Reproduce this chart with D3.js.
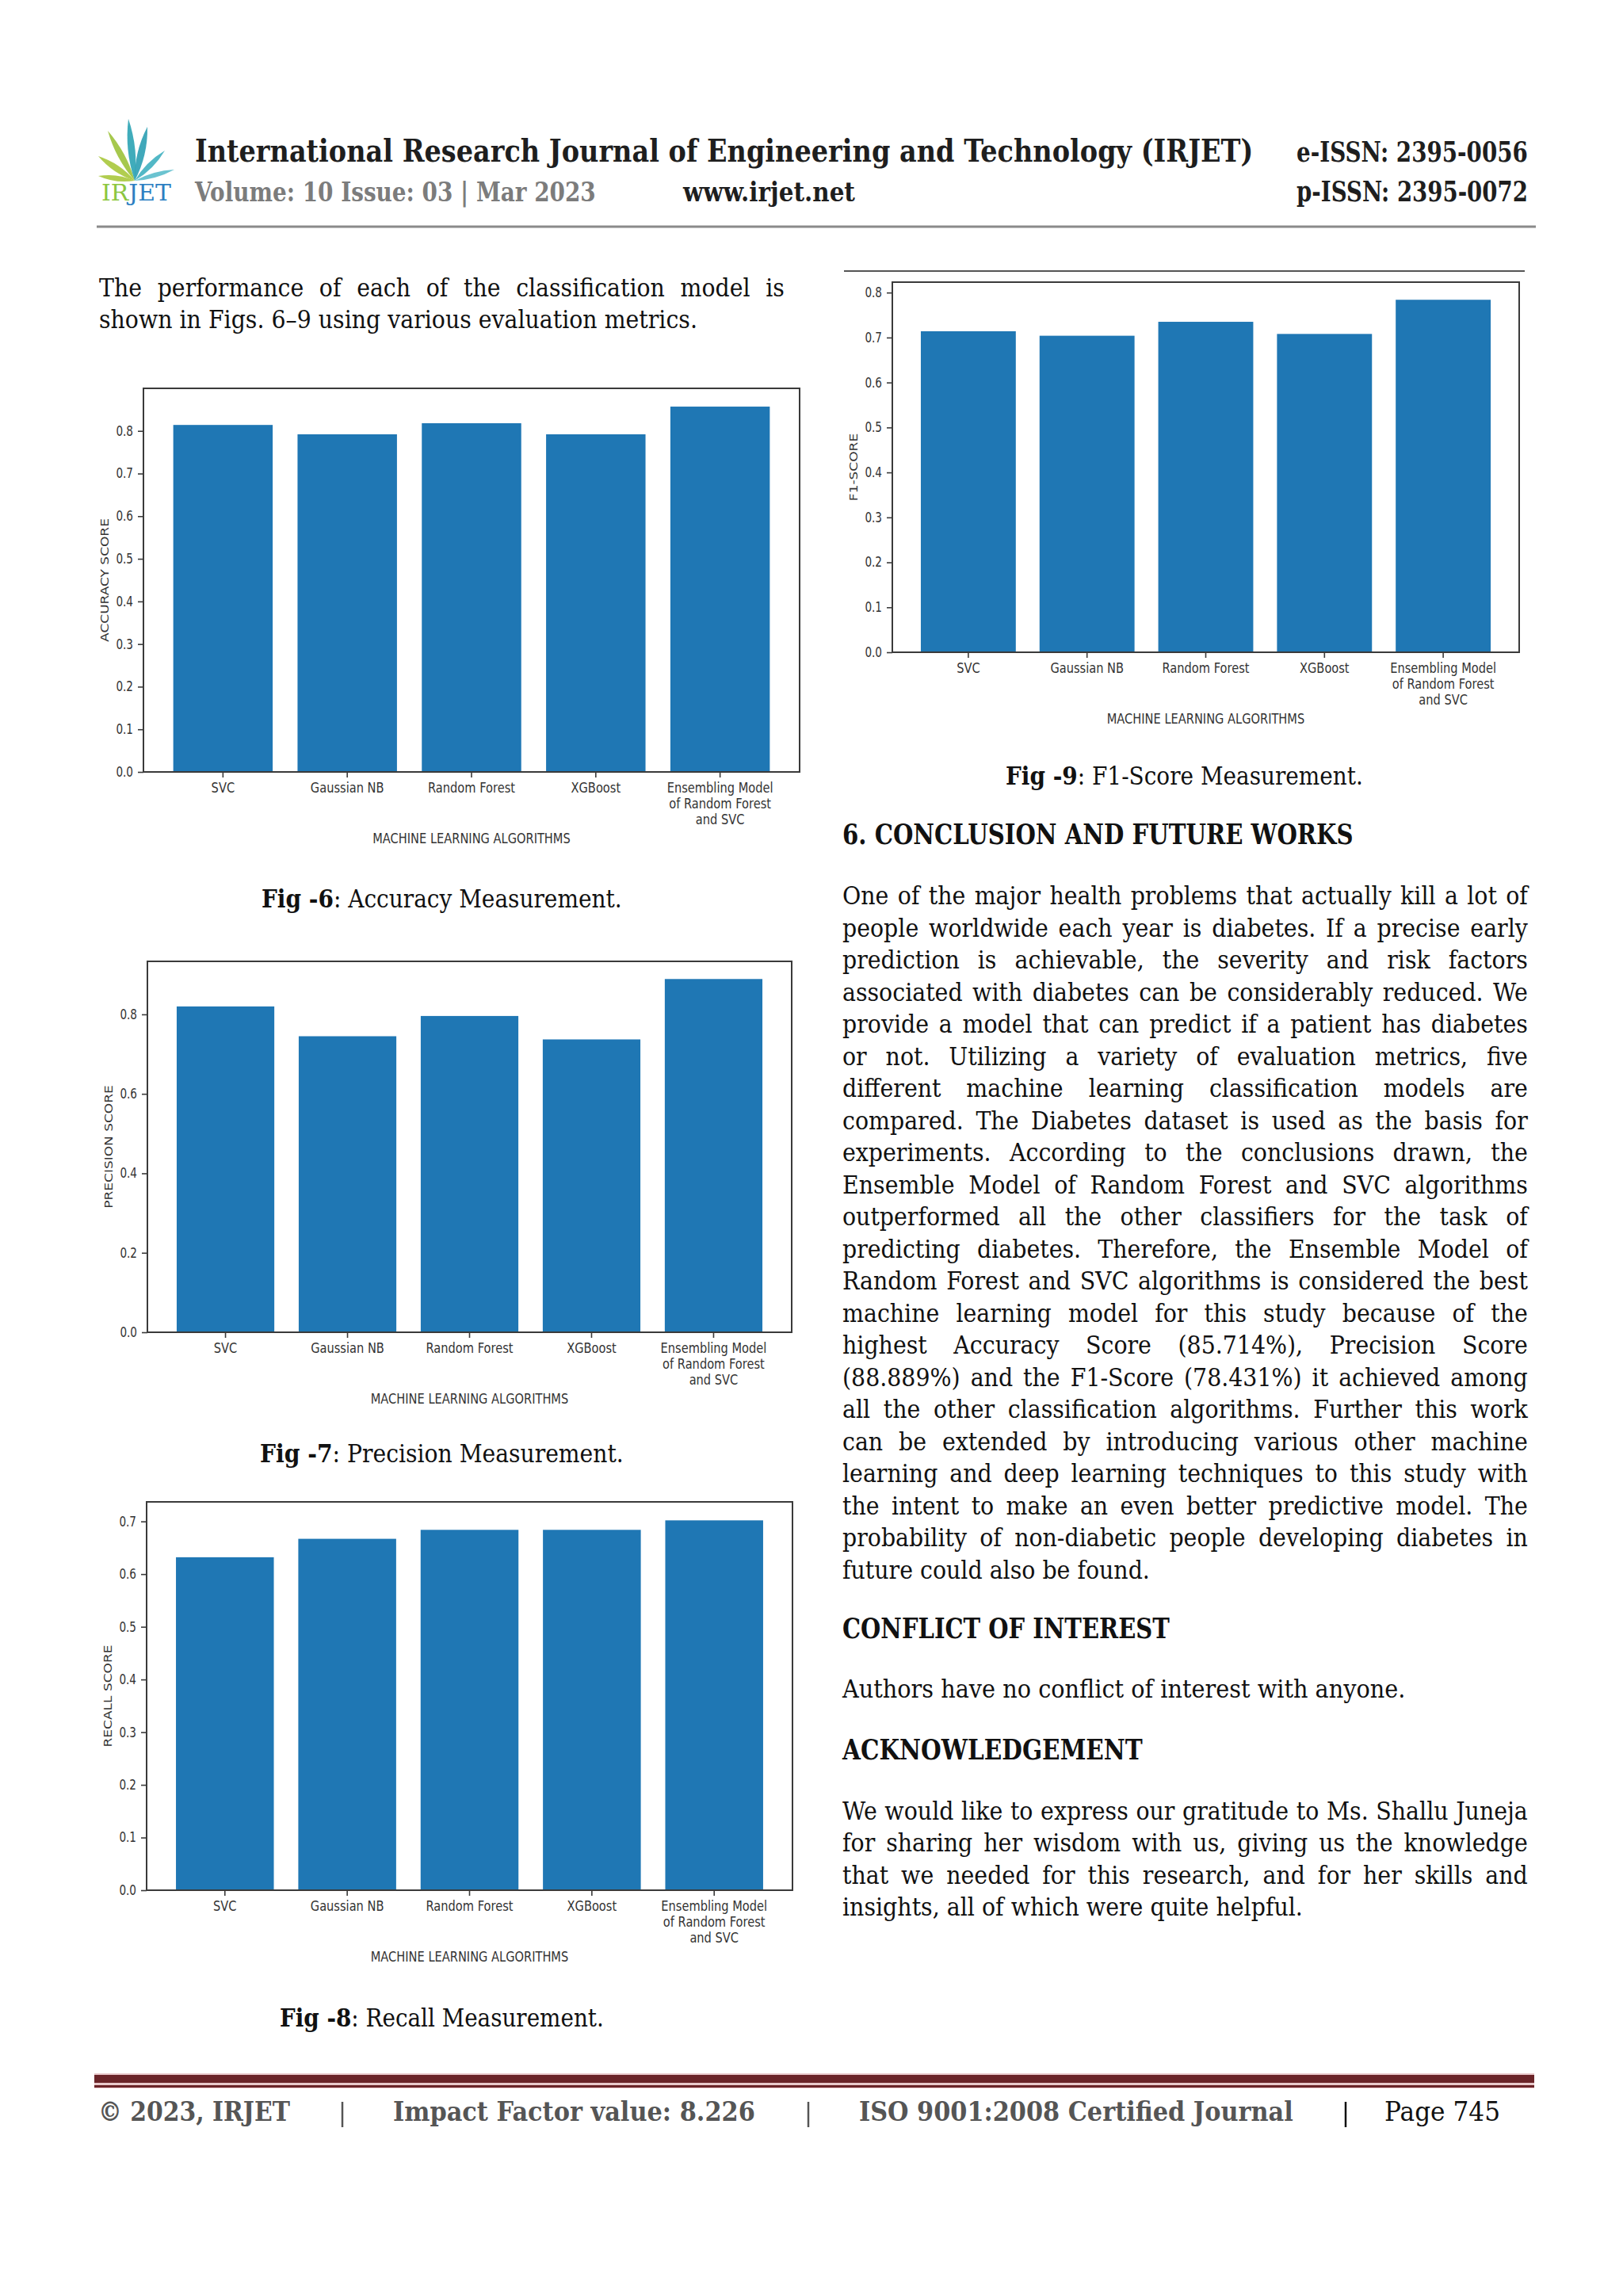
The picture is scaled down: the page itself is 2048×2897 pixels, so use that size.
<!DOCTYPE html>
<html>
<head>
<meta charset="utf-8">
<script src="https://cdn.jsdelivr.net/npm/d3@7"></script>
<style>
  body { margin: 0; background: #fff; }
</style>
</head>
<body>
<script>
// Chart data
const algorithms = ["SVC", "Gaussian NB", "Random Forest", "XGBoost", "Ensembling Model"];
const algorithmLines = [["SVC"], ["Gaussian NB"], ["Random Forest"], ["XGBoost"], ["Ensembling Model", "of Random Forest", "and SVC"]];
const accuracy = [0.814, 0.792, 0.818, 0.792, 0.857];
const precision = [0.820, 0.745, 0.796, 0.737, 0.889];
const recall = [0.632, 0.667, 0.684, 0.684, 0.702];
const f1Score = [0.714, 0.704, 0.735, 0.708, 0.784];
const accuracyTicks = [0, 0.1, 0.2, 0.3, 0.4, 0.5, 0.6, 0.7, 0.8];
const precisionTicks = [0, 0.2, 0.4, 0.6, 0.8];
const recallTicks = [0, 0.1, 0.2, 0.3, 0.4, 0.5, 0.6, 0.7];
const f1Ticks = [0, 0.1, 0.2, 0.3, 0.4, 0.5, 0.6, 0.7, 0.8];

// Page text
const introLines = [
  "The performance of each of the classification model is",
  "shown in Figs. 6\u20139 using various evaluation metrics."
];
const conclusionLines = [
  "One of the major health problems that actually kill a lot of",
  "people worldwide each year is diabetes. If a precise early",
  "prediction is achievable, the severity and risk factors",
  "associated with diabetes can be considerably reduced. We",
  "provide a model that can predict if a patient has diabetes",
  "or not. Utilizing a variety of evaluation metrics, five",
  "different machine learning classification models are",
  "compared. The Diabetes dataset is used as the basis for",
  "experiments. According to the conclusions drawn, the",
  "Ensemble Model of Random Forest and SVC algorithms",
  "outperformed all the other classifiers for the task of",
  "predicting diabetes. Therefore, the Ensemble Model of",
  "Random Forest and SVC algorithms is considered the best",
  "machine learning model for this study because of the",
  "highest Accuracy Score (85.714%), Precision Score",
  "(88.889%) and the F1-Score (78.431%) it achieved among",
  "all the other classification algorithms. Further this work",
  "can be extended by introducing various other machine",
  "learning and deep learning techniques to this study with",
  "the intent to make an even better predictive model. The",
  "probability of non-diabetic people developing diabetes in",
  "future could also be found."
];
const ackLines = [
  "We would like to express our gratitude to Ms. Shallu Juneja",
  "for sharing her wisdom with us, giving us the knowledge",
  "that we needed for this research, and for her skills and",
  "insights, all of which were quite helpful."
];

const serif = "DejaVu Serif";
const sans = "DejaVu Sans";
const barColor = "#1f77b4";
const axisColor = "#3a3a3a";

const svg = d3.select("body").append("svg")
  .attr("width", 2048)
  .attr("height", 2897);

svg.append("rect").attr("width", 2048).attr("height", 2897).attr("fill", "#fff");

// text helper: w = width the text takes on the page (narrow face -> horizontal scale)
function txt(g, x, y, s, o = {}) {
  const t = g.append("text")
    .attr("transform", `translate(${x},${y})`)
    .attr("font-family", o.font || serif)
    .attr("font-size", o.size || 31)
    .attr("font-weight", o.weight || "normal")
    .attr("fill", o.fill || "#111")
    .text(s);
  if (o.w) {
    const w0 = t.node().getComputedTextLength();
    t.attr("transform", `translate(${x},${y}) scale(${o.w / w0},1)`);
  }
  return t;
}

// justified paragraph: glyph squeeze taken from the last (free) line, word spacing fills the rest
function paragraph(g, x, y0, pitch, lines, colW, lastW) {
  const last = lines.length - 1;
  const nodes = lines.map((s, i) => txt(g, x, y0 + i * pitch, s));
  const k = lastW / nodes[last].node().getComputedTextLength();
  nodes.forEach((t, i) => {
    const y = y0 + i * pitch;
    if (i === last) {
      t.attr("transform", `translate(${x},${y}) scale(${k},1)`);
      return;
    }
    const w0 = t.node().getComputedTextLength();
    const spaces = (lines[i].match(/ /g) || []).length;
    t.attr("word-spacing", (colW / k - w0) / spaces);
    const w1 = t.node().getComputedTextLength();
    t.attr("transform", `translate(${x},${y}) scale(${colW / w1},1)`);
  });
}

// squeeze chart text horizontally by k around its own anchor
function squeeze(sel, k) {
  sel.each(function() {
    const t = d3.select(this);
    const x0 = +(t.attr("x") || 0);
    t.attr("x", x0 / k).attr("transform", `scale(${k},1)`);
  });
}

// ---------- header ----------
const header = svg.append("g");

function leaf(bx, by, tx, ty, w) {
  const mx = (bx + tx) / 2, my = (by + ty) / 2;
  const dx = tx - bx, dy = ty - by;
  const len = Math.sqrt(dx * dx + dy * dy);
  const nx = -dy / len * w, ny = dx / len * w;
  return `M${bx},${by} Q${mx + nx},${my + ny} ${tx},${ty} Q${mx - nx},${my - ny} ${bx},${by}Z`;
}
const logoBase = [170, 228];
const leaves = [
  { tip: [124, 222], w: 7, c: "#a9c83c" },
  { tip: [124, 197], w: 8, c: "#a9c83c" },
  { tip: [136, 165], w: 8, c: "#9cc23a" },
  { tip: [162, 150], w: 9, c: "#2ba3b4" },
  { tip: [186, 160], w: 9, c: "#2b9fb2" },
  { tip: [208, 190], w: 7, c: "#3fb0c0" },
  { tip: [220, 214], w: 6, c: "#5bbccb" }
];
leaves.forEach(l => {
  header.append("path")
    .attr("d", leaf(logoBase[0], logoBase[1], l.tip[0], l.tip[1], l.w))
    .attr("fill", l.c)
    .attr("opacity", 0.9);
});
const logoText = header.append("text")
  .attr("transform", "translate(128,253)")
  .attr("font-family", serif).attr("font-size", 27);
logoText.append("tspan").attr("fill", "#8cc63f").text("IR");
logoText.append("tspan").attr("fill", "#2d7fc2").text("JET");
logoText.attr("transform", `translate(128,253) scale(${88 / logoText.node().getComputedTextLength()},1)`);

txt(header, 246, 204, "International Research Journal of Engineering and Technology (IRJET)",
  { size: 40, weight: "bold", fill: "#1e1e1e", w: 1336 });
txt(header, 1636, 204, "e-ISSN: 2395-0056", { size: 36, weight: "bold", fill: "#1e1e1e", w: 292 });
txt(header, 246, 254, "Volume: 10 Issue: 03 | Mar 2023", { size: 33, weight: "bold", fill: "#7c7c7c", w: 506 });
txt(header, 862, 254, "www.irjet.net", { size: 33, weight: "bold", fill: "#1e1e1e", w: 217 });
txt(header, 1636, 254, "p-ISSN: 2395-0072", { size: 36, weight: "bold", fill: "#1e1e1e", w: 292 });

header.append("line")
  .attr("x1", 122).attr("x2", 1938).attr("y1", 286).attr("y2", 286)
  .attr("stroke", "#8a8a8a").attr("stroke-width", 3);

// ---------- body text ----------
const body = svg.append("g");
const colW = 865;

paragraph(body, 125, 374, 40, introLines, colW, 755);

txt(body, 1063, 1065, "6. CONCLUSION AND FUTURE WORKS", { size: 35, weight: "bold", w: 645 });
paragraph(body, 1063, 1141, 40.5, conclusionLines, colW, 388);
txt(body, 1063, 2067, "CONFLICT OF INTEREST", { size: 35, weight: "bold", w: 413 });
txt(body, 1063, 2142, "Authors have no conflict of interest with anyone.", { w: 711 });
txt(body, 1063, 2220, "ACKNOWLEDGEMENT", { size: 35, weight: "bold", w: 379 });
paragraph(body, 1063, 2296, 40.4, ackLines, colW, 581);

// rule above Fig 9
body.append("line")
  .attr("x1", 1065).attr("x2", 1924).attr("y1", 342).attr("y2", 342)
  .attr("stroke", "#555").attr("stroke-width", 2);

// ---------- charts ----------
const charts = [
  { values: accuracy, ticks: accuracyTicks, label: "ACCURACY SCORE",
    box: { left: 181, right: 1009, top: 490, bottom: 974 },
    fig: "Fig -6", caption: ": Accuracy Measurement.", cap: { x: 330, y: 1145, w: 455 } },
  { values: precision, ticks: precisionTicks, label: "PRECISION SCORE",
    box: { left: 186, right: 999, top: 1213, bottom: 1681 },
    fig: "Fig -7", caption: ": Precision Measurement.", cap: { x: 328, y: 1845, w: 459 } },
  { values: recall, ticks: recallTicks, label: "RECALL SCORE",
    box: { left: 185, right: 1000, top: 1895, bottom: 2385 },
    fig: "Fig -8", caption: ": Recall Measurement.", cap: { x: 353, y: 2557, w: 409 } },
  { values: f1Score, ticks: f1Ticks, label: "F1-SCORE",
    box: { left: 1126, right: 1917, top: 356, bottom: 823 },
    fig: "Fig -9", caption: ": F1-Score Measurement.", cap: { x: 1269, y: 990, w: 451 } }
];

function drawChart(c) {
  const b = c.box;
  const g = svg.append("g");

  const x = d3.scaleBand()
    .domain(algorithms)
    .range([b.left, b.right])
    .paddingInner(0.2)
    .paddingOuter(0.24);

  const y = d3.scaleLinear()
    .domain([0, d3.max(c.values) * 1.05])
    .range([b.bottom, b.top]);

  g.selectAll(".bar")
    .data(c.values)
    .enter().append("rect")
    .attr("class", "bar")
    .attr("x", (d, i) => x(algorithms[i]))
    .attr("width", x.bandwidth())
    .attr("y", d => y(d))
    .attr("height", d => y(0) - y(d))
    .attr("fill", barColor);

  // y axis
  const yAxis = g.append("g")
    .attr("transform", `translate(${b.left},0)`)
    .call(d3.axisLeft(y).tickValues(c.ticks).tickFormat(d3.format(".1f")).tickSize(7).tickPadding(6));
  yAxis.select(".domain").remove();
  yAxis.selectAll(".tick line").attr("stroke", axisColor).attr("stroke-width", 1.6);
  yAxis.selectAll(".tick text")
    .attr("font-family", sans).attr("font-size", 17).attr("fill", "#333");
  squeeze(yAxis.selectAll(".tick text"), 0.8);

  // x axis, labels split into lines
  const xAxis = g.append("g")
    .attr("transform", `translate(0,${b.bottom})`)
    .call(d3.axisBottom(x).tickSize(7).tickFormat(""));
  xAxis.select(".domain").remove();
  xAxis.selectAll(".tick line").attr("stroke", axisColor).attr("stroke-width", 1.6);
  xAxis.selectAll(".tick text").remove();
  xAxis.selectAll(".tick").each(function(d, i) {
    const tick = d3.select(this);
    algorithmLines[i].forEach((s, j) => {
      tick.append("text")
        .attr("class", "xlab")
        .attr("x", 0).attr("y", 26 + j * 20)
        .attr("text-anchor", "middle")
        .attr("font-family", sans).attr("font-size", 17).attr("fill", "#333")
        .text(s);
    });
  });
  squeeze(xAxis.selectAll(".xlab"), 0.86);

  // frame
  g.append("rect")
    .attr("x", b.left).attr("y", b.top)
    .attr("width", b.right - b.left).attr("height", b.bottom - b.top)
    .attr("fill", "none").attr("stroke", axisColor).attr("stroke-width", 2);

  // axis titles
  const xt = g.append("text")
    .attr("x", (b.left + b.right) / 2).attr("y", b.bottom + 90)
    .attr("text-anchor", "middle")
    .attr("font-family", sans).attr("font-size", 17).attr("fill", "#333")
    .text("MACHINE LEARNING ALGORITHMS");
  squeeze(xt, 0.86);

  g.append("text")
    .attr("transform", `translate(${b.left - 44},${(b.top + b.bottom) / 2}) scale(0.85,1) rotate(-90)`)
    .attr("text-anchor", "middle")
    .attr("font-family", sans).attr("font-size", 17).attr("fill", "#333")
    .text(c.label);

  // caption
  const cap = g.append("text")
    .attr("transform", `translate(${c.cap.x},${c.cap.y})`)
    .attr("font-family", serif).attr("font-size", 31).attr("fill", "#111");
  cap.append("tspan").attr("font-weight", "bold").text(c.fig);
  cap.append("tspan").text(c.caption);
  cap.attr("transform", `translate(${c.cap.x},${c.cap.y}) scale(${c.cap.w / cap.node().getComputedTextLength()},1)`);
}

charts.forEach(drawChart);

// ---------- footer ----------
const footer = svg.append("g");
const maroon = "#6a2428";
footer.append("rect").attr("x", 119).attr("y", 2616).attr("width", 1817).attr("height", 14).attr("fill", "#e9c9cb");
footer.append("rect").attr("x", 119).attr("y", 2618).attr("width", 1817).attr("height", 10).attr("fill", maroon);
footer.append("rect").attr("x", 119).attr("y", 2630).attr("width", 1817).attr("height", 5).attr("fill", "#e9c9cb");
footer.append("rect").attr("x", 119).attr("y", 2631).attr("width", 1817).attr("height", 3).attr("fill", maroon);

txt(footer, 124, 2676, "\u00a9 2023, IRJET", { size: 33, weight: "bold", fill: "#555", w: 242 });
txt(footer, 496, 2676, "Impact Factor value: 8.226", { size: 33, weight: "bold", fill: "#555", w: 457 });
txt(footer, 1084, 2676, "ISO 9001:2008 Certified Journal", { size: 33, weight: "bold", fill: "#555", w: 548 });
txt(footer, 1747, 2676, "Page 745", { size: 33, fill: "#111", w: 146 });
[432, 1020, 1698].forEach((xp, i) => {
  footer.append("line")
    .attr("x1", xp).attr("x2", xp).attr("y1", 2652).attr("y2", 2684)
    .attr("stroke", i === 2 ? "#111" : "#555").attr("stroke-width", 2.5);
});
</script>
</body>
</html>
